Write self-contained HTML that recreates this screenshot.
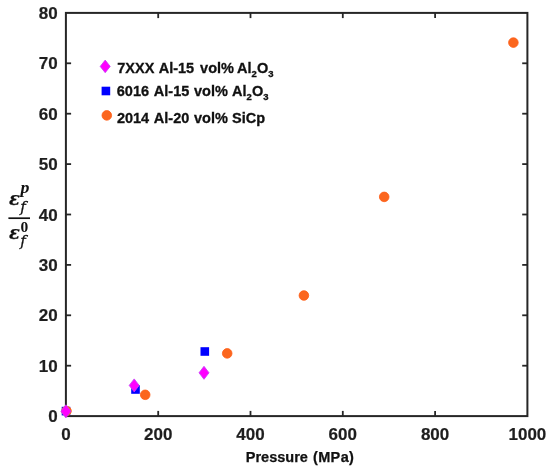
<!DOCTYPE html>
<html><head><meta charset="utf-8"><style>
html,body{margin:0;padding:0;background:#fff;}
svg{display:block;filter:blur(0.35px);}
.t{font-family:"Liberation Sans",Arial,sans-serif;font-weight:bold;font-size:17px;fill:#1e1e1e;stroke:#1e1e1e;stroke-width:0.2px;}
.xl{font-family:"Liberation Sans",Arial,sans-serif;font-weight:bold;font-size:14.5px;fill:#111;stroke:#111;stroke-width:0.25px;}
.lg{font-family:"Liberation Sans",Arial,sans-serif;font-weight:bold;font-size:14.5px;fill:#111;stroke:#111;stroke-width:0.3px;}
.sub{font-size:9.5px;}
.eps{font-family:"DejaVu Serif",serif;font-weight:bold;font-style:italic;font-size:17.8px;fill:#111;stroke:#111;stroke-width:0.25px;}
.scf{font-family:"DejaVu Serif",serif;font-style:italic;font-size:15px;fill:#111;stroke:#111;stroke-width:0.3px;}
.sc0{font-family:"Liberation Serif",serif;font-weight:bold;fill:#111;}
.sc{font-family:"Liberation Serif",serif;font-weight:bold;font-style:italic;font-size:14px;fill:#111;}
</style></head><body>
<svg width="550" height="471" viewBox="0 0 550 471">
<rect width="550" height="471" fill="#fff"/>
<rect x="65.9" y="12.9" width="461.5" height="403.20000000000005" fill="none" stroke="#262626" stroke-width="2"/>
<line x1="158.20" y1="416.1" x2="158.20" y2="410.90000000000003" stroke="#262626" stroke-width="1.8"/>
<line x1="158.20" y1="12.9" x2="158.20" y2="18.1" stroke="#262626" stroke-width="1.8"/>
<line x1="250.50" y1="416.1" x2="250.50" y2="410.90000000000003" stroke="#262626" stroke-width="1.8"/>
<line x1="250.50" y1="12.9" x2="250.50" y2="18.1" stroke="#262626" stroke-width="1.8"/>
<line x1="342.80" y1="416.1" x2="342.80" y2="410.90000000000003" stroke="#262626" stroke-width="1.8"/>
<line x1="342.80" y1="12.9" x2="342.80" y2="18.1" stroke="#262626" stroke-width="1.8"/>
<line x1="435.10" y1="416.1" x2="435.10" y2="410.90000000000003" stroke="#262626" stroke-width="1.8"/>
<line x1="435.10" y1="12.9" x2="435.10" y2="18.1" stroke="#262626" stroke-width="1.8"/>
<line x1="65.9" y1="365.70" x2="71.10000000000001" y2="365.70" stroke="#262626" stroke-width="1.8"/>
<line x1="527.4" y1="365.70" x2="522.1999999999999" y2="365.70" stroke="#262626" stroke-width="1.8"/>
<line x1="65.9" y1="315.30" x2="71.10000000000001" y2="315.30" stroke="#262626" stroke-width="1.8"/>
<line x1="527.4" y1="315.30" x2="522.1999999999999" y2="315.30" stroke="#262626" stroke-width="1.8"/>
<line x1="65.9" y1="264.90" x2="71.10000000000001" y2="264.90" stroke="#262626" stroke-width="1.8"/>
<line x1="527.4" y1="264.90" x2="522.1999999999999" y2="264.90" stroke="#262626" stroke-width="1.8"/>
<line x1="65.9" y1="214.50" x2="71.10000000000001" y2="214.50" stroke="#262626" stroke-width="1.8"/>
<line x1="527.4" y1="214.50" x2="522.1999999999999" y2="214.50" stroke="#262626" stroke-width="1.8"/>
<line x1="65.9" y1="164.10" x2="71.10000000000001" y2="164.10" stroke="#262626" stroke-width="1.8"/>
<line x1="527.4" y1="164.10" x2="522.1999999999999" y2="164.10" stroke="#262626" stroke-width="1.8"/>
<line x1="65.9" y1="113.70" x2="71.10000000000001" y2="113.70" stroke="#262626" stroke-width="1.8"/>
<line x1="527.4" y1="113.70" x2="522.1999999999999" y2="113.70" stroke="#262626" stroke-width="1.8"/>
<line x1="65.9" y1="63.30" x2="71.10000000000001" y2="63.30" stroke="#262626" stroke-width="1.8"/>
<line x1="527.4" y1="63.30" x2="522.1999999999999" y2="63.30" stroke="#262626" stroke-width="1.8"/>
<text x="65.90" y="439.5" text-anchor="middle" class="t">0</text>
<text x="158.20" y="439.5" text-anchor="middle" class="t">200</text>
<text x="250.50" y="439.5" text-anchor="middle" class="t">400</text>
<text x="342.80" y="439.5" text-anchor="middle" class="t">600</text>
<text x="435.10" y="439.5" text-anchor="middle" class="t">800</text>
<text x="527.40" y="439.5" text-anchor="middle" class="t">1000</text>
<text x="57.6" y="422.20" text-anchor="end" class="t">0</text>
<text x="57.6" y="371.80" text-anchor="end" class="t">10</text>
<text x="57.6" y="321.40" text-anchor="end" class="t">20</text>
<text x="57.6" y="271.00" text-anchor="end" class="t">30</text>
<text x="57.6" y="220.60" text-anchor="end" class="t">40</text>
<text x="57.6" y="170.20" text-anchor="end" class="t">50</text>
<text x="57.6" y="119.80" text-anchor="end" class="t">60</text>
<text x="57.6" y="69.40" text-anchor="end" class="t">70</text>
<text x="57.6" y="19.00" text-anchor="end" class="t">80</text>
<text y="462.2" class="xl"><tspan x="245.8">Pressure</tspan><tspan x="313.0" letter-spacing="0.35">(MPa)</tspan></text>
<rect x="61.70" y="406.80" width="8.6" height="8.6" fill="#0000FF"/>
<rect x="131.20" y="385.20" width="8.6" height="8.6" fill="#0000FF"/>
<rect x="200.50" y="347.20" width="8.6" height="8.6" fill="#0000FF"/>
<circle cx="66.50" cy="411.00" r="4.8" fill="#FB661E" stroke="#FF5C14" stroke-width="0.8"/>
<circle cx="145.20" cy="394.80" r="4.8" fill="#FB661E" stroke="#FF5C14" stroke-width="0.8"/>
<circle cx="227.20" cy="353.40" r="4.8" fill="#FB661E" stroke="#FF5C14" stroke-width="0.8"/>
<circle cx="303.90" cy="295.50" r="4.8" fill="#FB661E" stroke="#FF5C14" stroke-width="0.8"/>
<circle cx="384.20" cy="196.90" r="4.8" fill="#FB661E" stroke="#FF5C14" stroke-width="0.8"/>
<circle cx="513.40" cy="42.60" r="4.8" fill="#FB661E" stroke="#FF5C14" stroke-width="0.8"/>
<polygon points="65.90,404.80 70.90,411.30 65.90,417.80 60.90,411.30" fill="#FF00FF" stroke="#C43CF6" stroke-width="0.8" stroke-linejoin="miter"/>
<polygon points="134.20,378.90 139.20,385.40 134.20,391.90 129.20,385.40" fill="#FF00FF" stroke="#C43CF6" stroke-width="0.8" stroke-linejoin="miter"/>
<polygon points="204.00,366.30 209.00,372.80 204.00,379.30 199.00,372.80" fill="#FF00FF" stroke="#C43CF6" stroke-width="0.8" stroke-linejoin="miter"/>
<polygon points="105.20,60.10 110.20,66.40 105.20,72.70 100.20,66.40" fill="#FF00FF" stroke="#C43CF6" stroke-width="0.8" stroke-linejoin="miter"/>
<rect x="101.60" y="86.70" width="8.6" height="8.6" fill="#0000FF"/>
<circle cx="106.80" cy="115.40" r="4.8" fill="#FB661E" stroke="#FF5C14" stroke-width="0.8"/>
<text y="73.2" class="lg"><tspan x="117.3">7XXX</tspan><tspan x="158.7">Al-15</tspan><tspan x="200.1">vol%</tspan><tspan x="237.1">Al<tspan class="sub" dy="3.6">2</tspan><tspan dy="-3.6">O</tspan><tspan class="sub" dy="3.6">3</tspan></tspan></text>
<text y="96.4" class="lg"><tspan x="116.8">6016</tspan><tspan x="153.8">Al-15</tspan><tspan x="194.0">vol%</tspan><tspan x="232.1">Al<tspan class="sub" dy="3.6">2</tspan><tspan dy="-3.6">O</tspan><tspan class="sub" dy="3.6">3</tspan></tspan></text>
<text y="122.6" class="lg"><tspan x="116.9">2014</tspan><tspan x="153.8">Al-20</tspan><tspan x="194.0">vol%</tspan><tspan x="232.0">SiCp</tspan></text>
<line x1="8.4" y1="218.2" x2="30.0" y2="218.2" stroke="#111" stroke-width="1.7"/>
<text x="9.0" y="205.0" class="eps">&#949;</text>
<text x="0" y="0" class="sc" style="font-size:16.5px" transform="translate(20.6 192.8) scale(1.08 1)">p</text>
<text x="20.2" y="212.0" class="scf">f</text>
<text x="9.0" y="239.3" class="eps">&#949;</text>
<text x="20.4" y="231.8" class="sc0" style="font-size:15.5px">0</text>
<text x="20.2" y="246.0" class="scf">f</text>
</svg>
</body></html>
